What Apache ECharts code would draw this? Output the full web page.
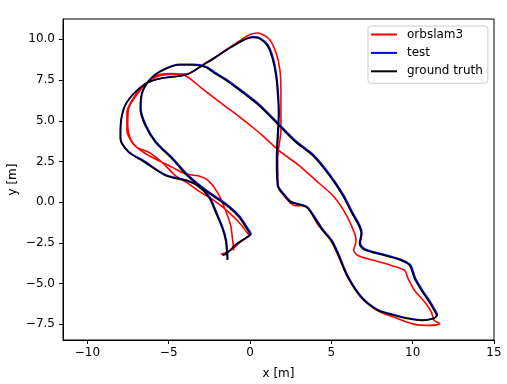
<!DOCTYPE html>
<html>
<head>
<meta charset="utf-8">
<script src="https://cdn.jsdelivr.net/npm/echarts@6/dist/echarts.min.js"></script>
<style>html,body{margin:0;padding:0;background:#fff;}#c{width:507px;height:384px;}</style>
</head>
<body>
<div id="c"></div>
<script>
// ground truth trajectory
const gtX = [-1.70,-1.50,-1.30,-0.88,-0.27,0.00,-0.27,-0.67,-1.30,-2.32,-3.00,-3.97,-4.79,-5.82,-6.44,-6.75,-6.64,-6.02,-5.20,-4.38,-3.56,-2.73,-2.12,-1.50,-0.47,0.56,1.79,2.82,3.85,4.88,5.70,6.22,6.73,6.83,6.73,7.04,8.27,9.30,9.81,10.12,10.54,10.95,11.26,11.46,11.26,10.54,9.72,8.89,7.86,6.83,6.01,5.39,4.98,4.47,4.06,3.54,3.23,2.51,2.10,1.69,1.63,1.75,1.69,1.59,1.38,1.07,0.56,0.15,-0.47,-1.50,-2.12,-2.94,-3.77,-4.17,-5.61,-6.44,-7.26,-7.78,-7.98,-7.98,-7.47,-6.64,-5.20,-3.97,-3.25,-2.53,-2.12,-1.70,-1.50,-1.44,-1.40];
const gtY = [-3.25,-3.20,-3.02,-2.61,-2.20,-2.00,-1.53,-0.92,-0.31,0.41,0.90,1.74,2.66,3.68,4.70,5.73,6.75,7.67,8.18,8.43,8.43,8.28,7.88,7.50,6.75,5.93,4.70,3.68,2.87,1.64,0.41,-0.60,-1.53,-1.94,-2.55,-2.92,-3.27,-3.58,-3.88,-4.70,-5.42,-6.03,-6.54,-6.95,-7.15,-7.26,-7.15,-6.95,-6.64,-5.83,-4.60,-3.17,-2.35,-1.74,-1.12,-0.37,-0.20,0.00,0.41,1.02,2.66,5.52,6.75,7.77,8.80,9.61,10.06,10.12,9.92,9.31,8.90,8.39,7.88,7.77,7.57,7.26,6.55,5.73,4.40,3.89,3.07,2.56,1.64,1.33,1.02,0.31,-0.61,-1.63,-2.35,-2.96,-3.55];
// test trajectory
const testX = [-1.66,-1.46,-1.25,-0.83,-0.22,0.06,-0.22,-0.62,-1.25,-2.27,-2.95,-3.92,-4.75,-5.78,-6.40,-6.71,-6.60,-5.98,-5.16,-4.34,-3.52,-2.69,-2.07,-1.45,-0.42,0.61,1.84,2.87,3.90,4.93,5.75,6.27,6.78,6.88,6.78,7.09,8.31,9.34,9.86,10.17,10.59,11.00,11.31,11.52,11.30,10.57,9.75,8.92,7.89,6.86,6.04,5.43,5.02,4.51,4.10,3.58,3.27,2.55,2.14,1.73,1.67,1.79,1.73,1.63,1.43,1.11,0.60,0.19,-0.43,-1.46,-2.08,-2.90,-3.73,-4.13,-5.57,-6.41,-7.23,-7.75,-7.95,-7.95,-7.44,-6.60,-5.16,-3.93,-3.21,-2.49,-2.08,-1.66,-1.46,-1.40,-1.36];
const testY = [-3.21,-3.16,-2.98,-2.57,-2.16,-1.96,-1.49,-0.88,-0.27,0.45,0.94,1.78,2.70,3.72,4.74,5.77,6.79,7.71,8.22,8.47,8.47,8.32,7.92,7.54,6.79,5.97,4.74,3.72,2.91,1.68,0.45,-0.56,-1.49,-1.90,-2.51,-2.88,-3.23,-3.54,-3.84,-4.66,-5.38,-5.99,-6.50,-6.91,-7.12,-7.23,-7.12,-6.92,-6.61,-5.80,-4.57,-3.14,-2.32,-1.71,-1.09,-0.34,-0.17,0.03,0.44,1.05,2.69,5.55,6.78,7.80,8.83,9.64,10.09,10.15,9.95,9.34,8.93,8.42,7.91,7.80,7.60,7.29,6.58,5.76,4.43,3.92,3.10,2.59,1.67,1.36,1.05,0.34,-0.58,-1.60,-2.32,-2.93,-3.52];
// orbslam3 trajectory
const orbX = [-1.80,-1.50,-1.09,-0.60,-0.06,-0.20,-0.57,-1.30,-2.20,-3.10,-3.77,-4.59,-5.41,-6.23,-6.95,-7.35,-7.52,-7.47,-6.85,-6.23,-5.61,-4.79,-3.97,-2.94,-1.70,-0.47,0.35,0.77,1.79,3.02,4.06,5.09,5.70,6.22,6.52,6.38,6.63,7.65,8.68,9.51,9.72,10.12,10.74,11.15,11.32,11.67,11.15,10.12,9.10,8.27,7.65,6.83,6.01,5.39,4.98,4.16,3.64,3.33,2.72,2.10,1.72,1.70,1.90,1.90,1.83,1.59,1.17,0.46,0.00,-0.50,-1.50,-2.12,-2.94,-3.77,-4.79,-5.61,-6.44,-7.10,-7.57,-7.57,-7.26,-6.85,-6.23,-4.79,-3.97,-3.20,-2.60,-2.00,-1.50,-1.19,-1.09,-1.00];
const orbY = [-3.20,-3.10,-2.88,-2.45,-2.02,-1.85,-1.35,-0.62,0.10,0.65,1.13,1.64,2.45,3.07,3.37,3.90,4.70,5.73,6.75,7.46,7.82,7.90,7.77,6.98,6.03,5.10,4.45,4.09,3.17,2.25,1.33,0.41,-0.41,-1.40,-2.35,-2.96,-3.27,-3.58,-3.88,-4.19,-4.70,-5.42,-6.13,-6.75,-7.26,-7.46,-7.56,-7.50,-7.15,-6.85,-6.54,-5.85,-4.62,-3.20,-2.37,-1.35,-0.43,-0.22,-0.20,0.40,1.02,2.66,4.50,6.75,8.18,9.20,10.02,10.39,10.30,10.00,9.35,8.92,8.42,7.90,7.85,7.75,7.30,6.50,5.50,4.40,3.68,3.27,2.87,2.15,1.74,1.62,1.35,0.61,-0.51,-1.43,-2.15,-2.96];
// ticks
const xTicks = [-10, -5, 0, 5, 10, 15];
const yTicks = [-7.5, -5.0, -2.5, 0.0, 2.5, 5.0, 7.5, 10.0];
const seriesNames = ['orbslam3', 'test', 'ground truth'];

const zip = (xs, ys) => xs.map((x, i) => [x, ys[i]]);
const minus = s => s.replace('-', '\u2212');
const FONT = 'DejaVu Sans';

const chart = echarts.init(document.getElementById('c'), null, {renderer: 'canvas'});
const lineSeries = (name, data, color) => ({
  name, type: 'line', data, showSymbol: false, symbol: 'none', smooth: 0.3,
  lineStyle: {color, width: 1.6}, itemStyle: {color}, animation: false, z: 2
});
chart.setOption({
  animation: false,
  backgroundColor: '#fff',
  grid: {left: 63, right: 13, top: 19, bottom: 44, containLabel: false, outerBoundsMode: 'none',
    show: true, borderColor: '#000', borderWidth: 1, backgroundColor: 'transparent'},
  legend: {
    data: seriesNames, orient: 'vertical', left: 368, top: 26,
    icon: 'rect', itemWidth: 26, itemHeight: 2, itemGap: 4.4,
    padding: [1.5, 5, 5, 3],
    borderColor: '#cccccc', borderWidth: 1, borderRadius: 3, backgroundColor: '#fff',
    textStyle: {fontFamily: FONT, fontSize: 12, color: '#000', lineHeight: 14, padding: [0, 0, 0, 5]}
  },
  xAxis: {
    type: 'value', min: -11.5, max: 15,
    name: 'x [m]', nameLocation: 'middle', nameGap: 27.5, nameMoveOverlap: false,
    nameTextStyle: {fontFamily: FONT, fontSize: 12, color: '#000'},
    axisLine: {show: true, onZero: false, lineStyle: {color: '#000', width: 1}},
    axisTick: {show: true, length: 4, lineStyle: {color: '#000', width: 1}, customValues: xTicks},
    axisLabel: {fontFamily: FONT, fontSize: 12, color: '#000', margin: 7, customValues: xTicks,
      formatter: v => minus(String(v))},
    splitLine: {show: false}
  },
  yAxis: {
    type: 'value', min: -8.46, max: 11.25,
    name: 'y [m]', nameLocation: 'middle', nameGap: 44, nameRotate: 90, nameMoveOverlap: false,
    nameTextStyle: {fontFamily: FONT, fontSize: 12, color: '#000'},
    axisLine: {show: true, onZero: false, lineStyle: {color: '#000', width: 1}},
    axisTick: {show: true, length: 4, lineStyle: {color: '#000', width: 1}, customValues: yTicks},
    axisLabel: {fontFamily: FONT, fontSize: 12, color: '#000', margin: 8, customValues: yTicks,
      formatter: v => minus(Number(v).toFixed(1))},
    splitLine: {show: false}
  },
  series: [
    lineSeries(seriesNames[0], zip(orbX, orbY), '#ff0000'),
    lineSeries(seriesNames[1], zip(testX, testY), '#0000ff'),
    lineSeries(seriesNames[2], zip(gtX, gtY), '#000000')
  ]
});
</script>
</body>
</html>
